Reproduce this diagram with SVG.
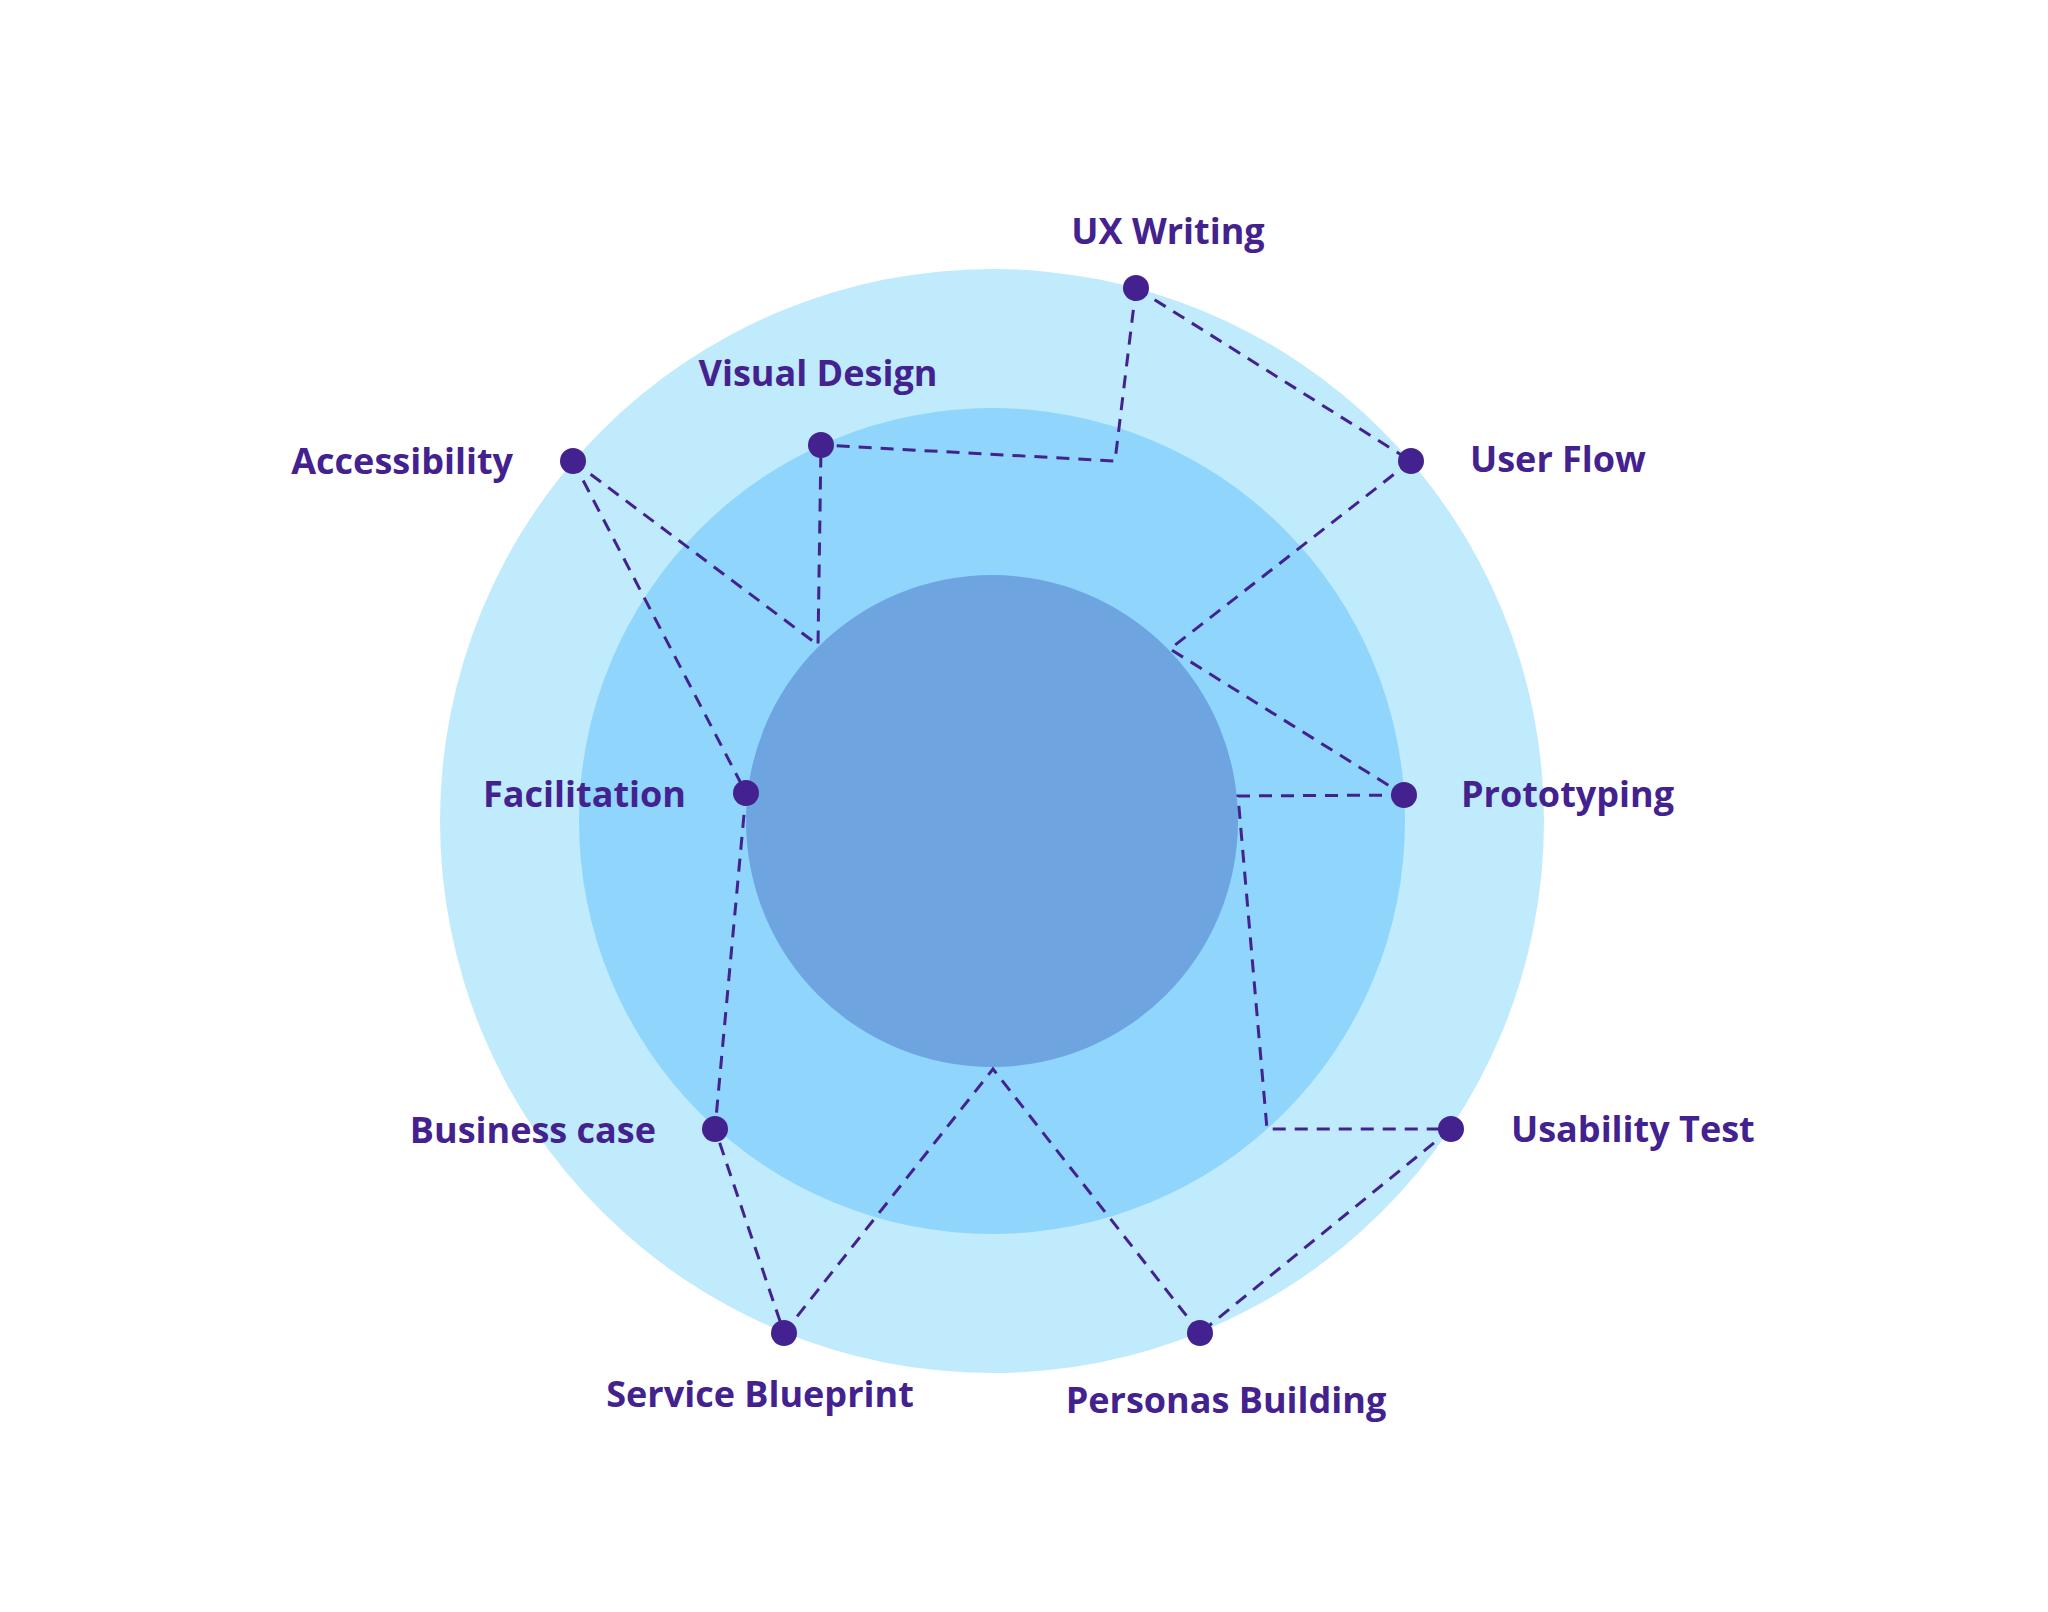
<svg xmlns="http://www.w3.org/2000/svg" width="2048" height="1612" viewBox="0 0 2048 1612">
<style>
.l{font-family:"Open Sans","Noto Sans",sans-serif;font-weight:bold;font-size:36px;fill:#43228f;dominant-baseline:central}
.c{fill:none;stroke:#43228f;stroke-width:3;stroke-dasharray:13 9}
.d{fill:#43228f}
</style>
<rect width="2048" height="1612" fill="#fff"/>
<g id="rings">
<circle cx="992" cy="821" r="552" fill="#c0ebfc"/>
<circle cx="992" cy="821" r="413" fill="#8fd5fc"/>
<circle cx="992" cy="821" r="246" fill="#6ea5e0"/>
</g>
<g id="connectors">
<polyline class="c" points="1136,288 1115,461 821,445"/>
<line class="c" x1="1136" y1="288" x2="1411" y2="461"/>
<polyline class="c" points="1411,461 1170,649 1404,795"/>
<polyline class="c" points="573,461 818,645 821,445"/>
<line class="c" x1="573" y1="461" x2="746" y2="793"/>
<polyline class="c" points="1404,795 1238,796 1267,1129 1451,1129"/>
<line class="c" x1="1451" y1="1129" x2="1200" y2="1333"/>
<polyline class="c" points="1200,1333 993,1069 784,1333"/>
<polyline class="c" points="746,793 715,1129 784,1333"/>
</g>
<g id="ux-writing"><circle class="d" cx="1136" cy="288" r="13"/><text class="l" x="1168" y="230" text-anchor="middle">UX Writing</text></g>
<g id="user-flow"><circle class="d" cx="1411" cy="461" r="13"/><text class="l" x="1470" y="458">User Flow</text></g>
<g id="visual-design"><circle class="d" cx="821" cy="445" r="13"/><text class="l" x="818" y="372" text-anchor="middle">Visual Design</text></g>
<g id="accessibility"><circle class="d" cx="573" cy="461" r="13"/><text class="l" x="513" y="460" text-anchor="end">Accessibility</text></g>
<g id="facilitation"><circle class="d" cx="746" cy="793" r="13"/><text class="l" x="686" y="793" text-anchor="end">Facilitation</text></g>
<g id="prototyping"><circle class="d" cx="1404" cy="795" r="13"/><text class="l" x="1461" y="793">Prototyping</text></g>
<g id="business-case"><circle class="d" cx="715" cy="1129" r="13"/><text class="l" x="656" y="1129" text-anchor="end">Business case</text></g>
<g id="usability-test"><circle class="d" cx="1451" cy="1129" r="13"/><text class="l" x="1511" y="1128">Usability Test</text></g>
<g id="service-blueprint"><circle class="d" cx="784" cy="1333" r="13"/><text class="l" x="760" y="1393" text-anchor="middle">Service Blueprint</text></g>
<g id="personas-building"><circle class="d" cx="1200" cy="1333" r="13"/><text class="l" x="1226" y="1399" text-anchor="middle">Personas Building</text></g>
</svg>
